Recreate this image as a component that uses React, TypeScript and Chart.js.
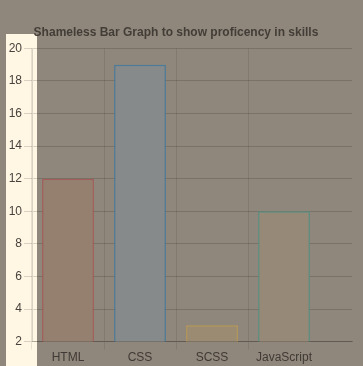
import React, { useEffect, useRef } from "react";
import { Chart, registerables } from "chart.js";

Chart.register(...registerables);

const categories = ["HTML", "CSS", "SCSS", "JavaScript"];
const proficiency = [12, 19, 3, 10];
const fillColors = ["#958070", "#868a8a", "#9b8b72", "#968977"];
const borderColors = ["#a35c58", "#4a7b9a", "#b89858", "#5a9080"];
const yTicks = { min: 2, max: 20, step: 2 };
const titleText = "Shameless Bar Graph to show proficency in skills";

const backdrop = {
  id: "backdrop",
  beforeDraw(chart: any) {
    const { ctx, width, height } = chart;
    ctx.save();
    ctx.fillStyle = "#8f877b";
    ctx.fillRect(0, 0, width, height);
    ctx.fillStyle = "#fff6e3";
    ctx.fillRect(6, 34, 31, height - 34);
    ctx.restore();
  },
};

export default function App() {
  const ref = useRef<HTMLCanvasElement | null>(null);
  useEffect(() => {
    if (!ref.current) return;
    const chart = new Chart(ref.current, {
      type: "bar",
      data: {
        datasets: [
          {
            label: "Proficiency",
            data: categories.map((c, i) => ({ x: i, y: proficiency[i] })) as any,
            backgroundColor: fillColors,
            borderColor: borderColors,
            borderWidth: 1.5,
          },
        ],
      },
      options: {
        animation: false,
        responsive: false,
        layout: { padding: { left: 0, right: 11, top: 15, bottom: 0 } },
        plugins: {
          legend: { display: false },
          tooltip: { enabled: false },
          title: {
            display: true,
            text: titleText,
            color: "#433d38",
            font: { family: "Liberation Sans", size: 12, weight: "bold" },
            padding: { top: 10, bottom: 9 },
          },
        },
        scales: {
          x: {
            type: "linear",
            offset: false,
            min: -0.5,
            max: 3.944,
            grid: {
              offset: true,
              color: (ctx: any) =>
                ctx.type !== "tick" ? "rgba(0,0,0,0)" : "rgba(0,0,0,0.09)",
            },
            border: { color: "rgba(0,0,0,0.2)" },
            ticks: {
              stepSize: 1,
              includeBounds: false,
              autoSkip: false,
              maxRotation: 0,
              padding: 1,
              color: "#3f3a35",
              font: { family: "Liberation Sans", size: 12 },
              callback: (v: any) => categories[v] ?? "",
            },
          },
          y: {
            min: yTicks.min,
            max: yTicks.max,
            afterFit: (scale: any) => {
              scale.width = 32;
            },
            grid: { color: "rgba(0,0,0,0.15)" },
            border: { color: "rgba(0,0,0,0.15)" },
            ticks: {
              stepSize: yTicks.step,
              padding: 2,
              color: "#47423d",
              font: { family: "Liberation Sans", size: 12 },
            },
          },
        },
      },
      plugins: [backdrop],
    });
    return () => chart.destroy();
  }, []);
  return (
    <div style={{ position: "absolute", left: 0, top: 0, width: 363, height: 366, background: "#8f877b" }}>
      <canvas ref={ref} width={363} height={366} style={{ display: "block" }} />
    </div>
  );
}
